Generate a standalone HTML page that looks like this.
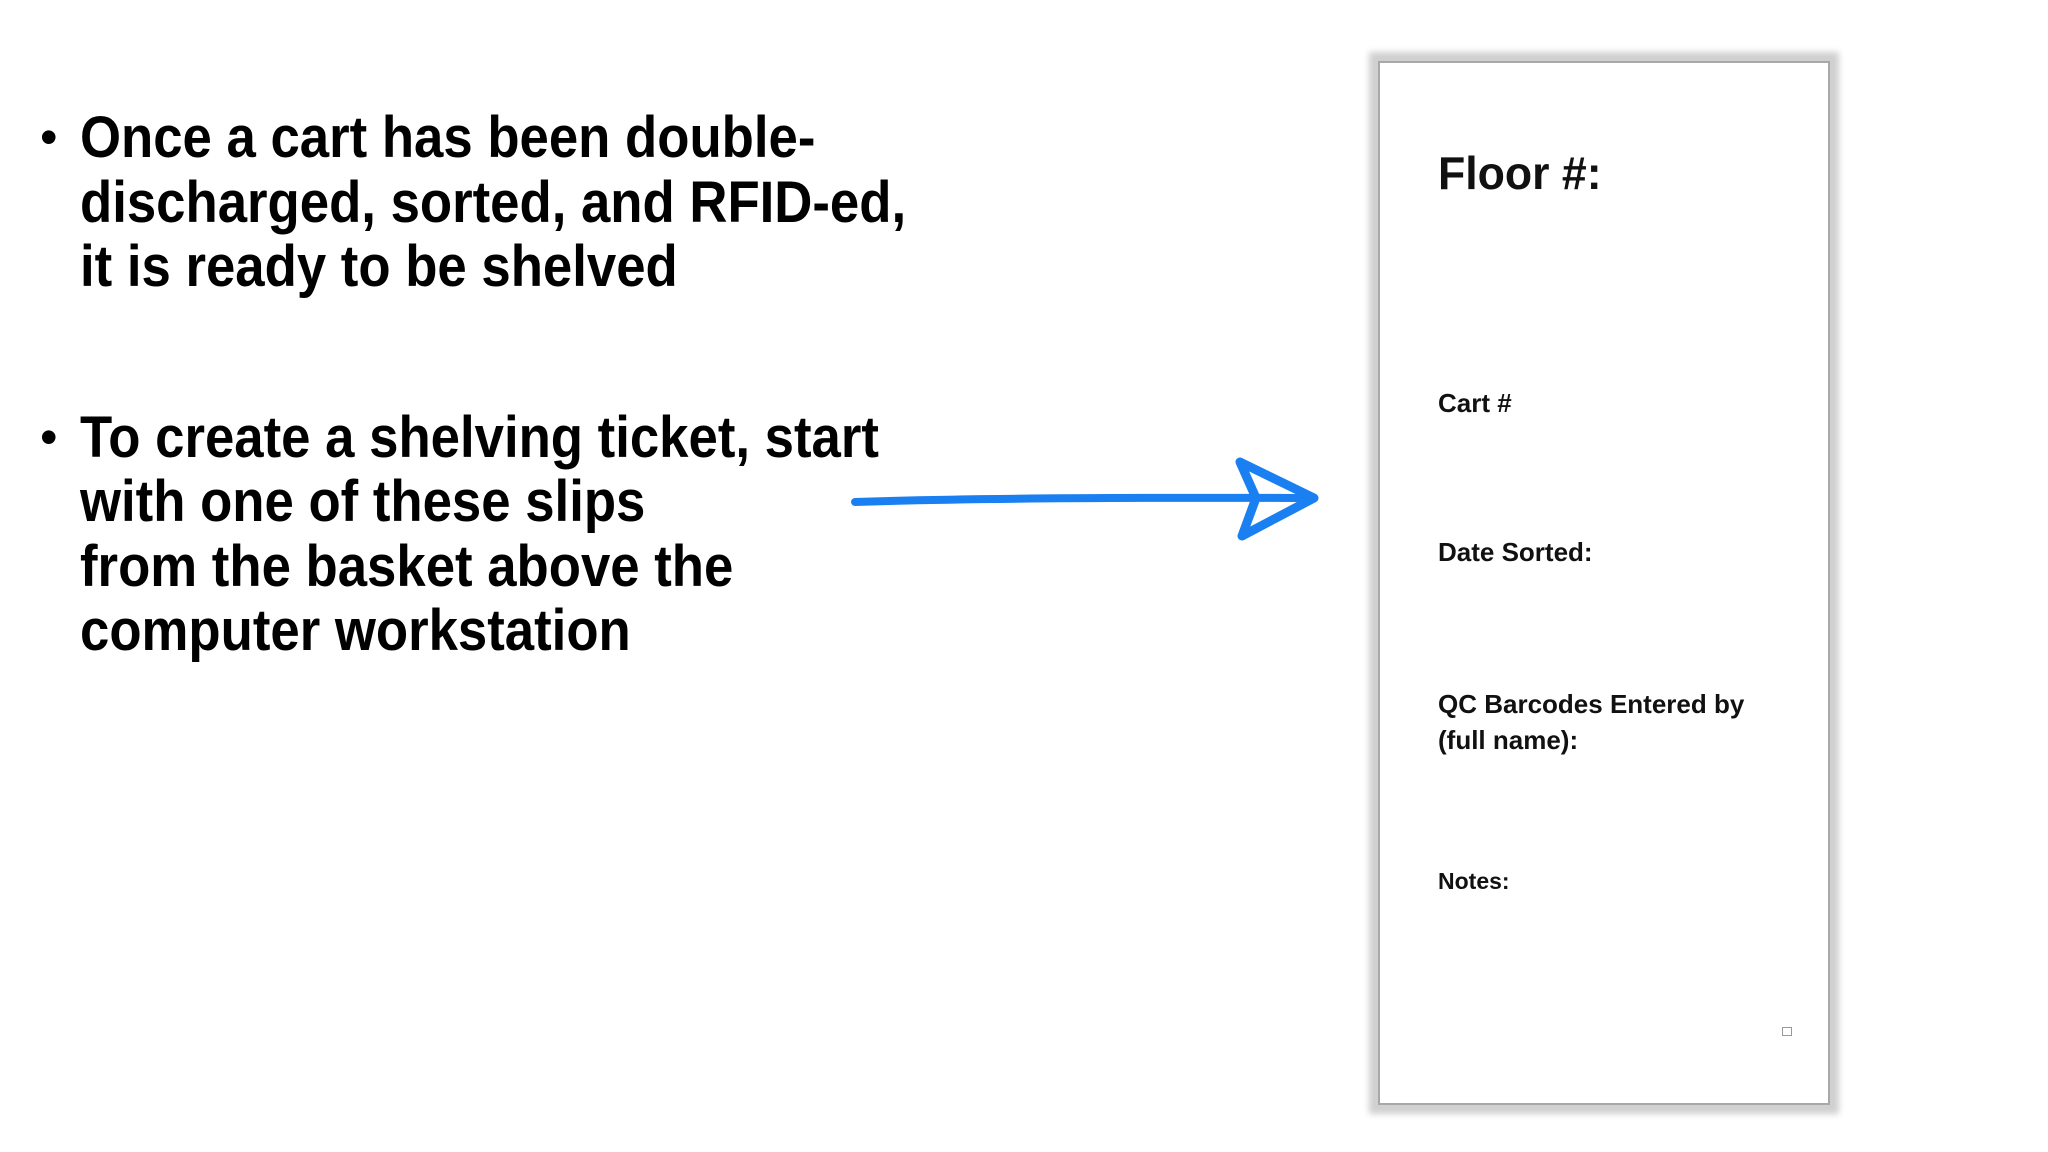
<!DOCTYPE html>
<html><head><meta charset="utf-8"><style>
html,body{margin:0;padding:0;background:#fff;}
body{width:2048px;height:1152px;position:relative;overflow:hidden;font-family:"Liberation Sans",sans-serif;}
.l{position:absolute;left:80px;font-size:58px;line-height:58px;font-weight:bold;color:#000;white-space:nowrap;transform:scaleX(0.909);transform-origin:left top;}
.b{position:absolute;left:40px;font-size:50px;color:#000;}
.paper{position:absolute;left:1378px;top:61px;width:448px;height:1040px;background:#fff;border:2px solid #a8a8a8;box-shadow:0 0 6px 9px #d0d0d0;}
.t{position:absolute;font-weight:bold;color:#111;white-space:nowrap;transform-origin:left top;}
</style></head><body>
<div class="b" style="top:108px">•</div>
<div class="l" style="top:109px">Once a cart has been double-</div>
<div class="l" style="top:174px">discharged, sorted, and RFID-ed,</div>
<div class="l" style="top:238px">it is ready to be shelved</div>
<div class="b" style="top:408px">•</div>
<div class="l" style="top:409px">To create a shelving ticket, start</div>
<div class="l" style="top:473px">with one of these slips</div>
<div class="l" style="top:538px">from the basket above the</div>
<div class="l" style="top:602px">computer workstation</div>

<svg style="position:absolute;left:0;top:0" width="2048" height="1152">
<path d="M855 502 Q 1000 497 1300 498" stroke="#1a7ff0" stroke-width="8" fill="none" stroke-linecap="round"/>
<path d="M1240 462 L1314 498 L1242 536 L1256 498 Z" stroke="#1a7ff0" stroke-width="9" fill="none" stroke-linejoin="round"/>
</svg>

<div class="paper">
<div class="t" style="left:58px;top:83px;font-size:46px;transform:scaleX(0.97);">Floor #:</div>
<div class="t" style="left:58px;top:325px;font-size:26px;">Cart #</div>
<div class="t" style="left:58px;top:474px;font-size:26px;">Date Sorted:</div>
<div class="t" style="left:58px;top:623px;font-size:26px;line-height:36px;">QC Barcodes Entered by<br>(full name):</div>
<div class="t" style="left:58px;top:805px;font-size:23px;">Notes:</div>
<div style="position:absolute;left:402px;top:964px;width:8px;height:7px;border:1px solid #999;"></div>
</div>
</body></html>
